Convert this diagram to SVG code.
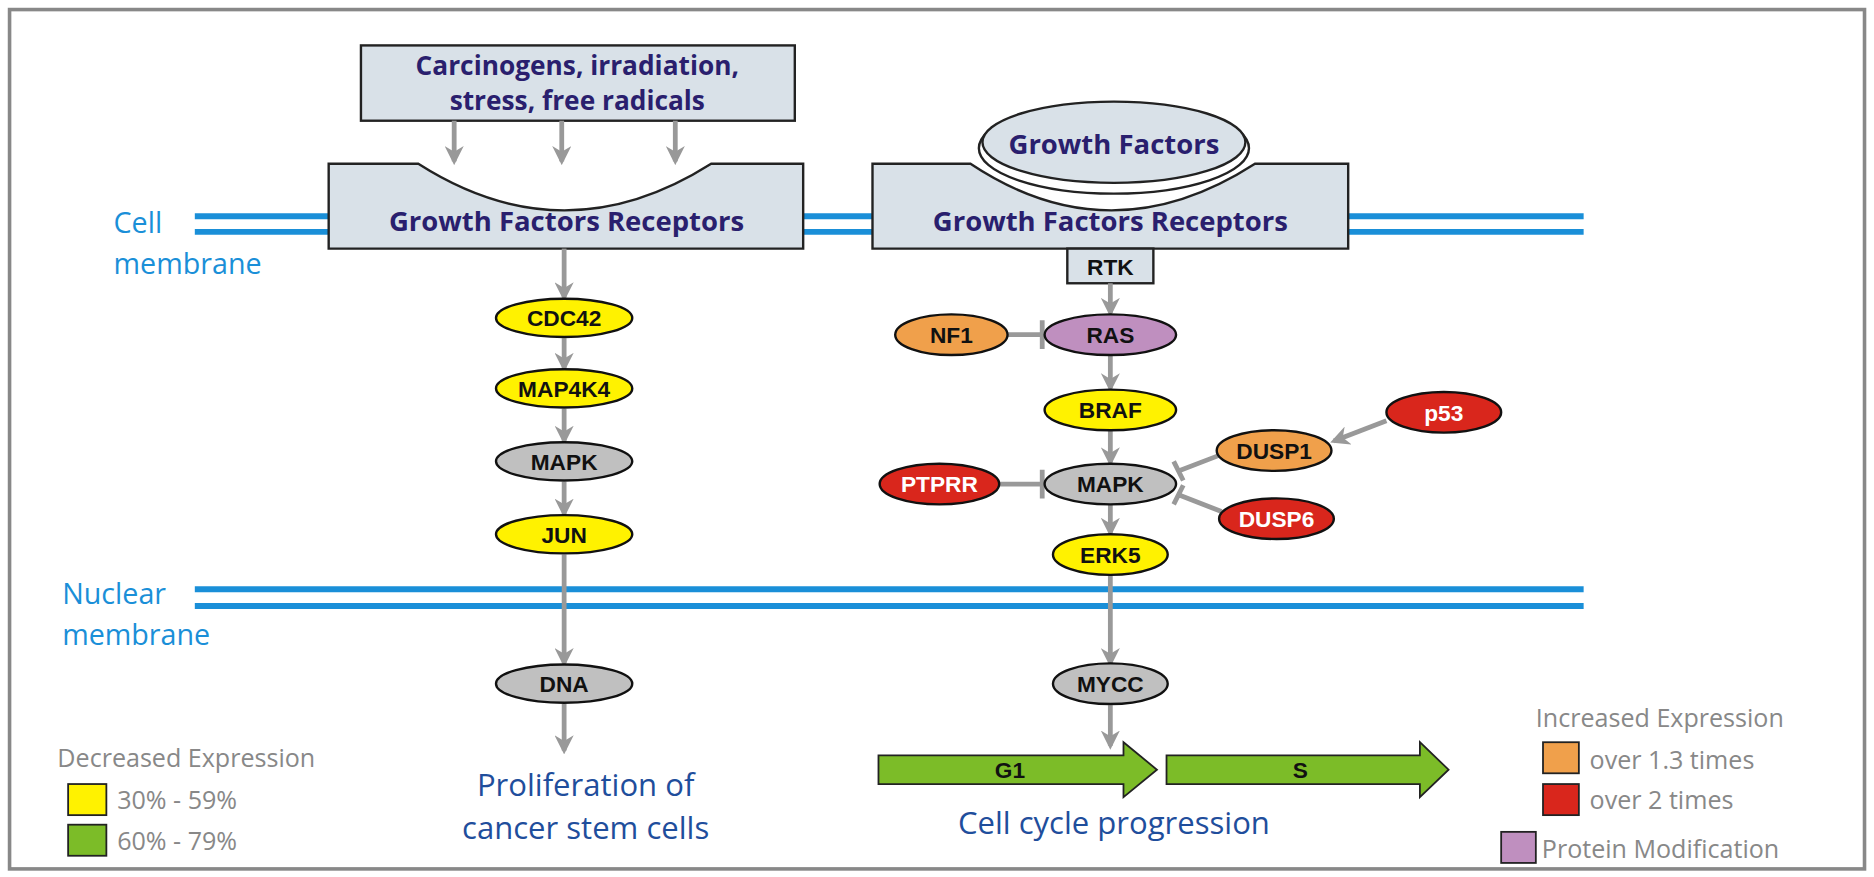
<svg xmlns="http://www.w3.org/2000/svg" width="1874" height="877" viewBox="0 0 1874 877">
<defs>
<marker id="ah" viewBox="0 0 10 10" refX="8" refY="5" markerWidth="4" markerHeight="4" orient="auto"><path d="M0,0 L10,5 L0,10 L3,5 Z" fill="#999"/></marker>
<style>
.box{fill:#d9e1e8;stroke:#222;stroke-width:2}
.bt{font-family:"Open Sans","Liberation Sans",sans-serif;font-weight:bold;fill:#2a1f6e;font-size:23px;text-anchor:middle}
.bs{font-size:22px}
.el{stroke:#111;stroke-width:2}
.et{font-family:"Liberation Sans",Arial,sans-serif;font-weight:bold;font-size:19px;text-anchor:middle;fill:#111}
.wt{fill:#fff}
.ar{stroke:#999;stroke-width:4;fill:none;marker-end:url(#ah)}
.inh{stroke:#999;stroke-width:4;fill:none}
.mem{stroke:#1a8fd8;stroke-width:5}
.bl{font-family:"Open Sans","Liberation Sans",sans-serif;fill:#1a8fd8;font-size:24px}
.lg{font-family:"Open Sans","Liberation Sans",sans-serif;fill:#888;font-size:21px}
.lb{font-family:"Open Sans","Liberation Sans",sans-serif;fill:#1f4e9c;font-size:26px;text-anchor:middle}
.y{fill:#fff200}.g{fill:#c0c0c0}.o{fill:#f0a04b}.r{fill:#d9261c}.p{fill:#bf8fbf}
</style>
</defs>
<g transform="scale(1.1952)">
<rect x="8" y="8" width="1552" height="719" fill="#fff" stroke="#888" stroke-width="3"/>
<g id="membranes">
<line class="mem" x1="163" y1="181" x2="1325" y2="181"/>
<line class="mem" x1="163" y1="194" x2="1325" y2="194"/>
<line class="mem" x1="163" y1="493" x2="1325" y2="493"/>
<line class="mem" x1="163" y1="507" x2="1325" y2="507"/>
<text class="bl" x="95" y="195">Cell</text>
<text class="bl" x="95" y="229">membrane</text>
<text class="bl" x="52" y="505">Nuclear</text>
<text class="bl" x="52" y="540">membrane</text>
</g>
<g id="carcinogens"><rect class="box" x="302" y="38" width="363" height="63"/>
<text class="bt bs" x="483" y="63">Carcinogens, irradiation,</text><text class="bt bs" x="483" y="92">stress, free radicals</text></g>
<g id="gfr1"><path class="box" d="M275,137 H350 Q472,215 595,137 H672 V208 H275 Z"/><text class="bt" x="474" y="193">Growth Factors Receptors</text></g>
<g id="gfr2"><path class="box" d="M730,137 H812 Q929,215 1050,137 H1128 V208 H730 Z"/><text class="bt" x="929" y="193">Growth Factors Receptors</text></g>
<g id="gf"><ellipse cx="932" cy="124" rx="113" ry="38" fill="#fff" stroke="#222" stroke-width="2"/><ellipse class="box" cx="932" cy="119" rx="110" ry="34"/><text class="bt" x="932" y="129">Growth Factors</text></g>
<g id="rtk"><rect class="box" x="893" y="208" width="72" height="29"/><text class="et" x="929" y="230">RTK</text></g>
<g id="connectors">
<line class="ar" x1="380" y1="101" x2="380" y2="135"/>
<line class="ar" x1="470" y1="101" x2="470" y2="135"/>
<line class="ar" x1="565" y1="101" x2="565" y2="135"/>
<line class="ar" x1="472" y1="208" x2="472" y2="249"/>
<line class="ar" x1="472" y1="283" x2="472" y2="308"/>
<line class="ar" x1="472" y1="342" x2="472" y2="369"/>
<line class="ar" x1="472" y1="403" x2="472" y2="430"/>
<line class="ar" x1="472" y1="464" x2="472" y2="555"/>
<line class="ar" x1="472" y1="589" x2="472" y2="628"/>
<line class="ar" x1="929" y1="237" x2="929" y2="262"/>
<line class="ar" x1="929" y1="297" x2="929" y2="325"/>
<line class="ar" x1="929" y1="360" x2="929" y2="387"/>
<line class="ar" x1="929" y1="422" x2="929" y2="446"/>
<line class="ar" x1="929" y1="481" x2="929" y2="555"/>
<line class="ar" x1="929" y1="590" x2="929" y2="624"/>
<line class="ar" x1="1160" y1="352" x2="1116" y2="369"/>
<path class="inh" d="M843,280 H872 M872,268 V292"/>
<path class="inh" d="M836,405 H872 M872,393 V417"/>
<path class="inh" d="M1020,381 L986,394 M982,386 L990,402"/>
<path class="inh" d="M1022,428 L986,414 M982,422 L990,406"/>
</g>
<g id="cdc42"><ellipse class="el y" cx="472" cy="266" rx="57" ry="16"/><text class="et" x="472" y="273">CDC42</text></g>
<g id="map4k4"><ellipse class="el y" cx="472" cy="325" rx="57" ry="16"/><text class="et" x="472" y="332">MAP4K4</text></g>
<g id="mapk1"><ellipse class="el g" cx="472" cy="386" rx="57" ry="16"/><text class="et" x="472" y="393">MAPK</text></g>
<g id="jun"><ellipse class="el y" cx="472" cy="447" rx="57" ry="16"/><text class="et" x="472" y="454">JUN</text></g>
<g id="dna"><ellipse class="el g" cx="472" cy="572" rx="57" ry="16"/><text class="et" x="472" y="579">DNA</text></g>
<g id="ras"><ellipse class="el p" cx="929" cy="280" rx="55" ry="17"/><text class="et" x="929" y="287">RAS</text></g>
<g id="nf1"><ellipse class="el o" cx="796" cy="280" rx="47" ry="17"/><text class="et" x="796" y="287">NF1</text></g>
<g id="braf"><ellipse class="el y" cx="929" cy="343" rx="55" ry="17"/><text class="et" x="929" y="350">BRAF</text></g>
<g id="mapk2"><ellipse class="el g" cx="929" cy="405" rx="55" ry="17"/><text class="et" x="929" y="412">MAPK</text></g>
<g id="ptprr"><ellipse class="el r" cx="786" cy="405" rx="50" ry="17"/><text class="et wt" x="786" y="412">PTPRR</text></g>
<g id="dusp1"><ellipse class="el o" cx="1066" cy="377" rx="48" ry="17"/><text class="et" x="1066" y="384">DUSP1</text></g>
<g id="dusp6"><ellipse class="el r" cx="1068" cy="434" rx="48" ry="17"/><text class="et wt" x="1068" y="441">DUSP6</text></g>
<g id="p53"><ellipse class="el r" cx="1208" cy="345" rx="48" ry="17"/><text class="et wt" x="1208" y="352">p53</text></g>
<g id="erk5"><ellipse class="el y" cx="929" cy="464" rx="48" ry="17"/><text class="et" x="929" y="471">ERK5</text></g>
<g id="mycc"><ellipse class="el g" cx="929" cy="572" rx="48" ry="17"/><text class="et" x="929" y="579">MYCC</text></g>
<g id="g1"><path d="M735,632 H940 V621 L968,644 L940,667 V656 H735 Z" fill="#7cbc28" stroke="#222" stroke-width="1.5"/><text class="et" x="845" y="651">G1</text></g>
<g id="s"><path d="M976,632 H1188 V621 L1212,644 L1188,667 V656 H976 Z" fill="#7cbc28" stroke="#222" stroke-width="1.5"/><text class="et" x="1088" y="651">S</text></g>
<text class="lb" x="932" y="698">Cell cycle progression</text>
<text class="lb" x="490" y="666">Proliferation of</text>
<text class="lb" x="490" y="702">cancer stem cells</text>
<g id="legend">
<text class="lg" x="48" y="642">Decreased Expression</text>
<rect x="57" y="656" width="32" height="26" fill="#fff200" stroke="#222" stroke-width="1.5"/><text class="lg" x="98" y="677">30% - 59%</text>
<rect x="57" y="690" width="32" height="26" fill="#7cbc28" stroke="#222" stroke-width="1.5"/><text class="lg" x="98" y="711">60% - 79%</text>
<text class="lg" x="1285" y="608">Increased Expression</text>
<rect x="1291" y="621" width="30" height="26" fill="#f0a04b" stroke="#222" stroke-width="1.5"/><text class="lg" x="1330" y="643">over 1.3 times</text>
<rect x="1291" y="656" width="30" height="26" fill="#d9261c" stroke="#222" stroke-width="1.5"/><text class="lg" x="1330" y="677">over 2 times</text>
<rect x="1256" y="696" width="29" height="26" fill="#bf8fbf" stroke="#222" stroke-width="1.5"/><text class="lg" x="1290" y="718">Protein Modification</text>
</g>
</g>
</svg>
